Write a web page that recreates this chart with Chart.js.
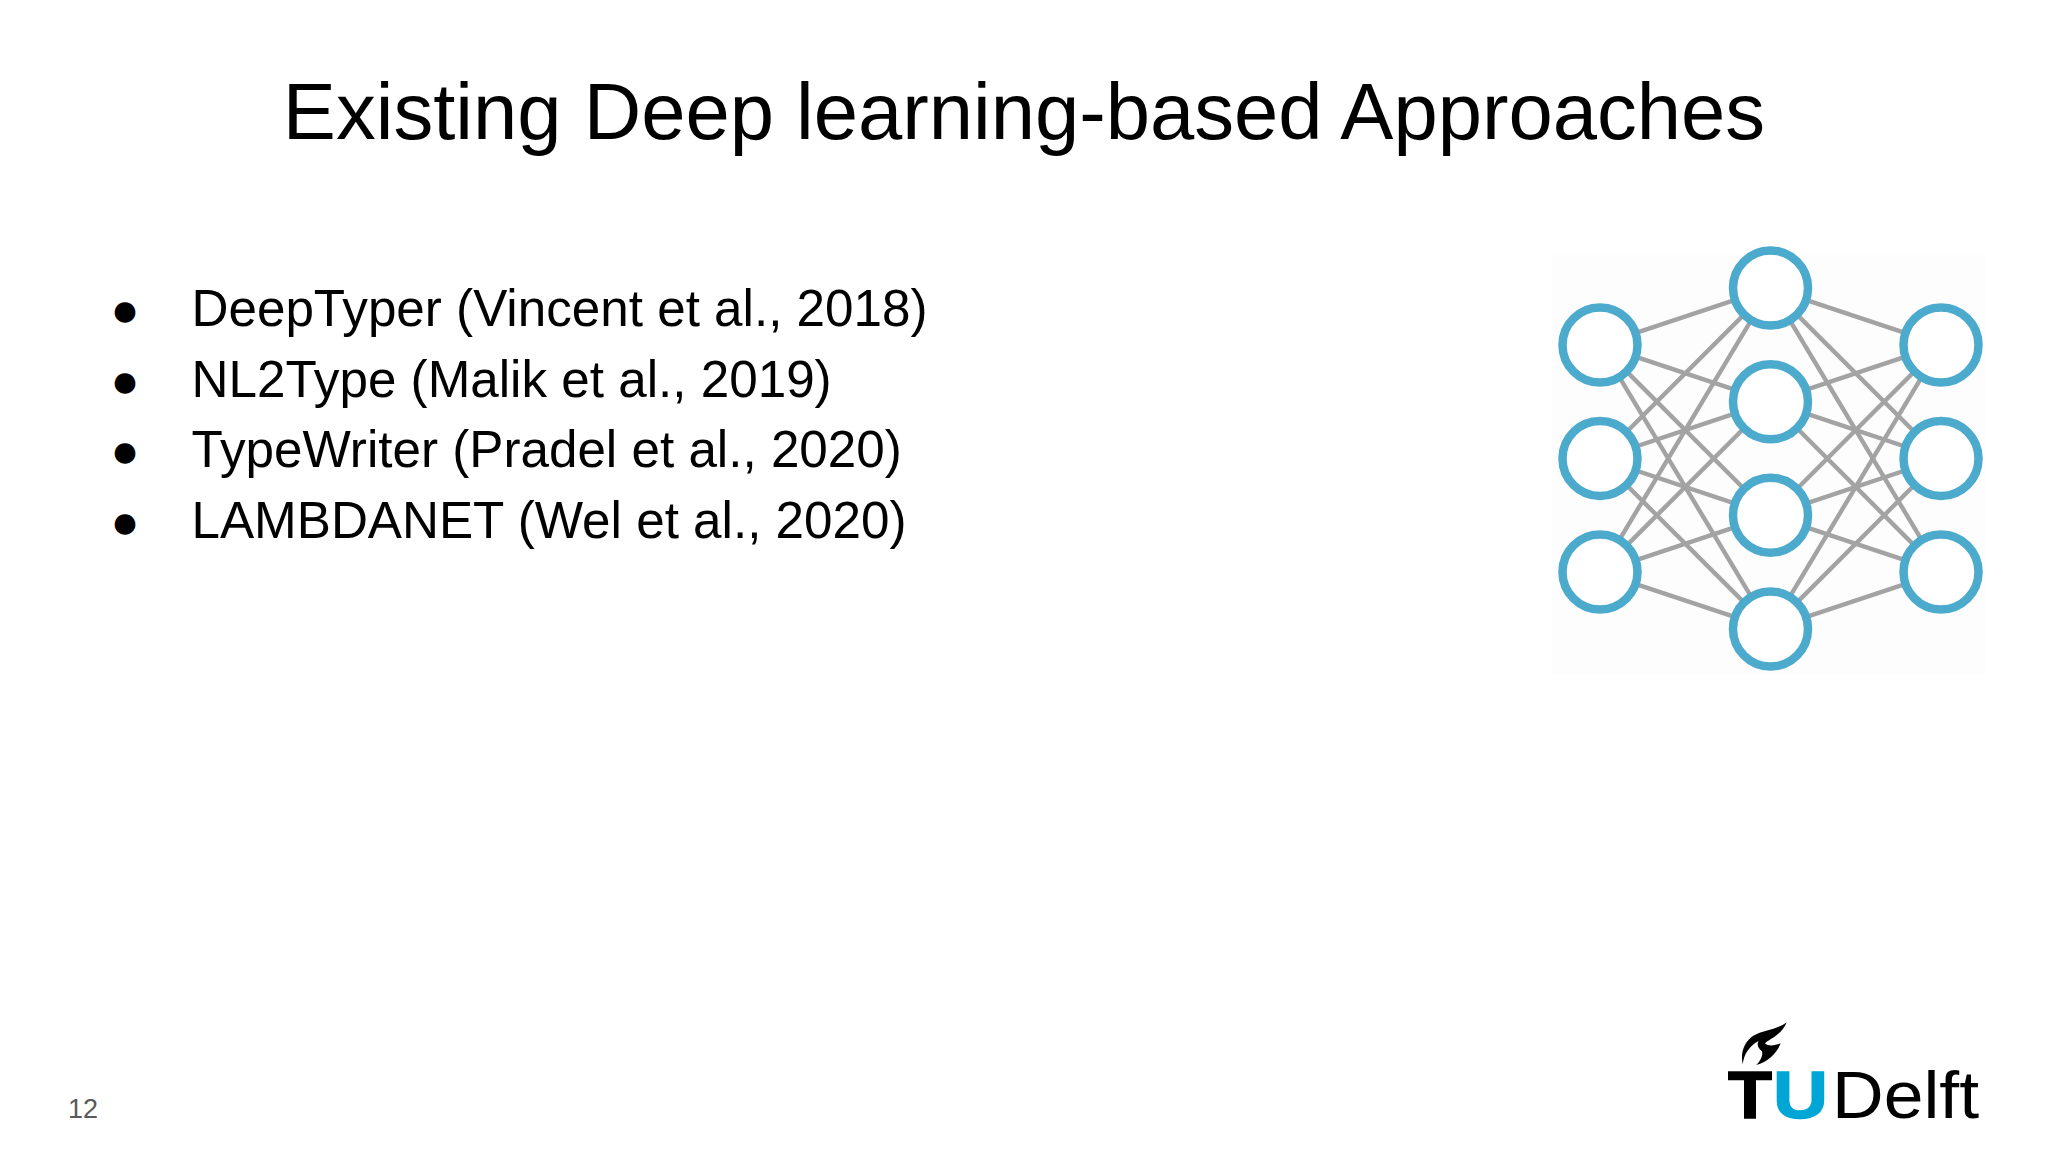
<!DOCTYPE html>
<html>
<head>
<meta charset="utf-8">
<script src="https://cdn.jsdelivr.net/npm/chart.js@4"></script>
<style>
html,body{margin:0;padding:0;background:#fff;width:2048px;height:1152px;overflow:hidden;font-family:"Liberation Sans",Arial,sans-serif;color:#000}
#title{position:absolute;left:0;width:2048px;top:66px;text-align:center;font-size:79.6px;line-height:92px;white-space:nowrap}
.b{position:absolute;left:191.5px;font-size:51.2px;line-height:56px;white-space:nowrap}
.d{position:absolute;left:110.5px;width:24px;text-align:center;font-size:48px;line-height:56px}
#page{position:absolute;left:68px;top:1094px;font-size:27px;line-height:30px;color:#595959}
#bg{position:absolute;left:1552px;top:255px;width:433px;height:420px;background:#fdfdfd}
#net{position:absolute;left:1552px;top:240px;width:433px;height:440px}
#logo{position:absolute;left:1700px;top:1000px}
</style>
</head>
<body>
<div id="title">Existing Deep learning-based Approaches</div>
<div id="list"></div>
<div id="page">12</div>
<div id="bg"></div>
<div id="net"><canvas id="c" width="433" height="440"></canvas></div>
<svg id="logo" width="340" height="150" viewBox="0 0 340 150">
<path transform="translate(30,15) scale(0.3333)" d="M170 22 C140 45 100 45 70 62 C45 78 30 110 38 148 C42 120 55 95 85 78 C80 92 85 100 95 108 C100 115 95 135 78 150 C115 140 140 115 152 85 C135 92 115 95 105 85 C120 70 155 60 170 22 Z" fill="#000"/>
<text x="28" y="118" font-family="Liberation Sans" font-weight="700" font-size="67" textLength="44" lengthAdjust="spacingAndGlyphs" fill="#000" stroke="#000" stroke-width="1.5">T</text>
<text x="73" y="118" font-family="Liberation Sans" font-weight="700" font-size="67" textLength="55" lengthAdjust="spacingAndGlyphs" fill="#00a6d6" stroke="#00a6d6" stroke-width="1.5">U</text>
<text x="132" y="118" font-family="Liberation Sans" font-size="67" textLength="147" lengthAdjust="spacingAndGlyphs" fill="#000">Delft</text>
</svg>
<script>
const bulletLabels = ["DeepTyper (Vincent et al., 2018)","NL2Type (Malik et al., 2019)","TypeWriter (Pradel et al., 2020)","LAMBDANET (Wel et al., 2020)"];
const layerX = [0, 1, 2];
const outerLayerY = [1, 0, -1];
const middleLayerY = [1.5, 0.5, -0.5, -1.5];
const edgeColor = "#a3a3a3";
const nodeColor = "#4caacd";

const list = document.getElementById("list");
bulletLabels.forEach((t, i) => {
  const top = 281 + i * 70.7;
  const b = document.createElement("div"); b.className = "b"; b.style.top = top + "px"; b.textContent = t; list.appendChild(b);
  const d = document.createElement("div"); d.className = "d"; d.style.top = (top + 1) + "px"; d.textContent = "\u25CF"; list.appendChild(d);
});

const leftNodes = outerLayerY.map(y => ({x: layerX[0], y}));
const midNodes = middleLayerY.map(y => ({x: layerX[1], y}));
const rightNodes = outerLayerY.map(y => ({x: layerX[2], y}));

const edges = [];
[[leftNodes, midNodes], [midNodes, rightNodes]].forEach(([from, to]) => {
  from.forEach(a => to.forEach(b => edges.push({
    type: "line", data: [a, b], borderColor: edgeColor, borderWidth: 4.4,
    pointRadius: 0, fill: false, tension: 0, order: 2
  })));
});
new Chart(document.getElementById("c"), {
  type: "scatter",
  data: { datasets: [...edges, {
    type: "scatter", data: [...leftNodes, ...midNodes, ...rightNodes],
    pointRadius: 37.5, pointHoverRadius: 37.5, borderColor: nodeColor, pointBorderWidth: 8.5, pointBorderColor: nodeColor,
    pointBackgroundColor: "#ffffff", order: 1, clip: false
  }]},
  options: {
    responsive: false, animation: false, devicePixelRatio: 1,
    layout: {padding: 0, autoPadding: false},
    plugins: {legend: {display: false}, tooltip: {enabled: false}, title: {display: false}},
    scales: {
      x: {type: "linear", display: false, min: -0.2815, max: 2.258},
      y: {type: "linear", display: false, min: -1.9498, max: 1.9234}
    }
  }
});
</script>
</body>
</html>
